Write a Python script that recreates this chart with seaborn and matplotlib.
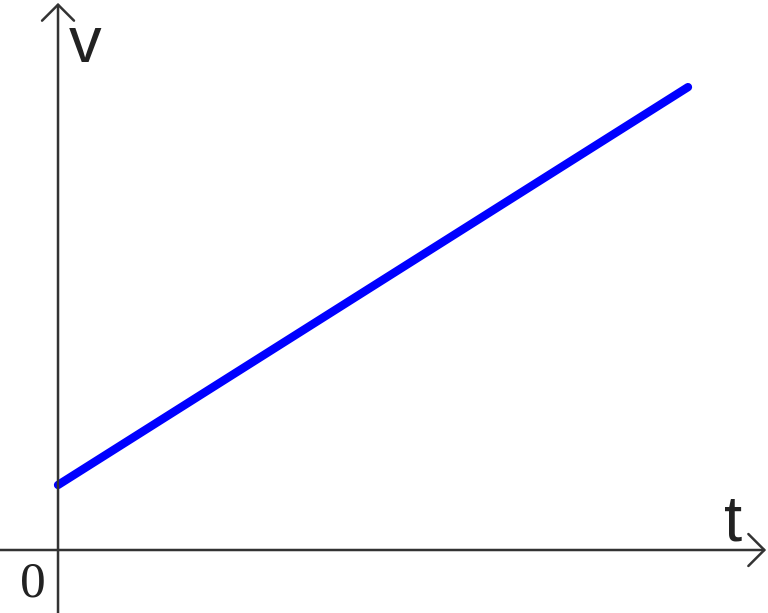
import matplotlib
matplotlib.use('Agg')
import matplotlib.pyplot as plt
import seaborn as sns
import pandas as pd

# velocity-time graph data
t = [0, 10]
v = [1.0, 7.12]

sns.set_theme(style='white')
plt.rcParams['font.family'] = ['Liberation Sans', 'DejaVu Sans']

fig = plt.figure(figsize=(7.68, 6.13), dpi=100)
ax = fig.add_axes([0, 0, 1, 1])
ax.set_xlim(-0.921, 11.27)
ax.set_ylim(-0.969, 8.46)
ax.axis('off')

axis_col = '#333333'
arrow = dict(arrowstyle='->,head_length=11.5,head_width=11.5', mutation_scale=1,
             color=axis_col, lw=1.8, shrinkA=0, shrinkB=0)
# t axis
ax.annotate('', xy=(11.24, 0), xytext=(-0.921, 0), arrowprops=arrow)
# v axis
ax.annotate('', xy=(0, 8.415), xytext=(0, -0.969), arrowprops=arrow)

df = pd.DataFrame({'t': t, 'v': v})
sns.lineplot(data=df, x='t', y='v', ax=ax, color='#0000ff', linewidth=6,
             solid_capstyle='round')

ax.text(0.43, 7.5, 'v', fontsize=47, ha='center', va='baseline', color='#222222')
ax.text(10.71, 0.15, 't', fontsize=47, ha='center', va='baseline', color='#222222')
ax.text(-0.40, -0.72, '0', fontsize=37, ha='center', va='baseline', color='#222222',
        family=['Liberation Serif', 'DejaVu Serif'])

fig.savefig('out.png', dpi=100)
